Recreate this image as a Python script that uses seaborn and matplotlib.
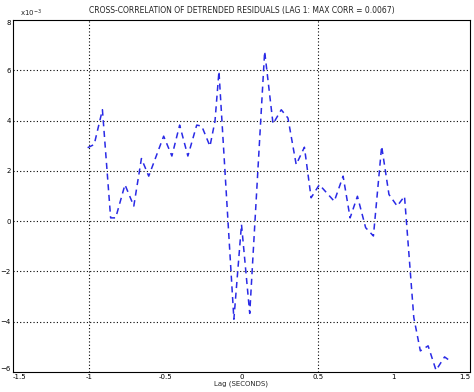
import numpy as np
import pandas as pd
import matplotlib
matplotlib.use('Agg')
import matplotlib.pyplot as plt
import seaborn as sns

# values (y in units of 1e-3)
lag = [-1.01, -0.967, -0.913, -0.859, -0.826, -0.765, -0.707, -0.657, -0.609, -0.511,
       -0.457, -0.406, -0.352, -0.294, -0.261, -0.207, -0.174, -0.148, -0.05, 0.0,
       0.054, 0.152, 0.207, 0.261, 0.305, 0.359, 0.413, 0.457, 0.511, 0.609,
       0.667, 0.713, 0.761, 0.815, 0.866, 0.920, 0.968, 1.022, 1.07, 1.131,
       1.174, 1.225, 1.277, 1.333, 1.37]
corr = [2.92, 3.05, 4.43, 0.13, 0.13, 1.45, 0.6, 2.49, 1.79, 3.38,
        2.59, 3.82, 2.59, 3.82, 3.78, 2.98, 3.98, 5.96, -3.90, -0.13,
        -3.67, 6.75, 3.87, 4.43, 4.1, 2.25, 2.94, 0.93, 1.45, 0.79,
        1.79, 0.13, 0.99, -0.26, -0.59, 2.98, 1.06, 0.6, 0.99, -3.83,
        -5.16, -4.96, -5.93, -5.40, -5.56]

x_ticks = [-1.5, -1, -0.5, 0, 0.5, 1, 1.5]
x_tick_labels = ['-1.5', '-1', '-0.5', '0', '0.5', '1', '1.5']
y_ticks = [-6, -4, -2, 0, 2, 4, 6, 8]
title = 'CROSS-CORRELATION OF DETRENDED RESIDUALS (LAG 1: MAX CORR = 0.0067)'
x_label = 'Lag (SECONDS)'

df = pd.DataFrame({'lag': lag, 'corr': corr})

sns.set_style('white')
plt.rcParams['font.family'] = ['DejaVu Sans']

fig = plt.figure(figsize=(4.74, 3.92), dpi=100)
ax = fig.add_axes([13 / 474, 20 / 392, 457 / 474, 352 / 392])

# grid: horizontal at every tick, vertical ones that show in the reference
for yv in y_ticks[1:-1]:
    ax.axhline(yv, color='black', linestyle=(0, (1, 2)), linewidth=0.8, zorder=0)
for xv in [-1, 0.5]:
    ax.axvline(xv, color='black', linestyle=(0, (1, 2)), linewidth=0.8, zorder=0)

sns.lineplot(data=df, x='lag', y='corr', sort=False, ax=ax,
             color='#2a2ae6', linewidth=1.1, dashes=False)
ax.lines[-1].set_linestyle((0, (4, 3)))

ax.set_xlim(-1.5, 1.5)
ax.set_ylim(-6, 8)
ax.set_xticks(x_ticks)
ax.set_xticklabels(x_tick_labels)
ax.set_yticks(y_ticks)
ax.tick_params(direction='in', length=3, labelsize=5, pad=1.5, colors='black')
for s in ax.spines.values():
    s.set_color('black')
    s.set_linewidth(0.8)

# keep corner labels inside the figure and apart from each other
xl = ax.get_xticklabels()
xl[0].set_ha('left')
xl[-1].set_ha('right')
ax.get_yticklabels()[0].set_va('bottom')
ax.get_yticklabels()[-1].set_va('top')

ax.set_xlabel(x_label, fontsize=5, labelpad=0)
ax.set_ylabel('')
ax.set_title(title, fontsize=5.5, pad=5, color='#222222')
fig.text(20 / 474, 1 - 13 / 392, r'x10$^{-3}$', fontsize=5, va='center')

fig.savefig('out.png', dpi=100)
